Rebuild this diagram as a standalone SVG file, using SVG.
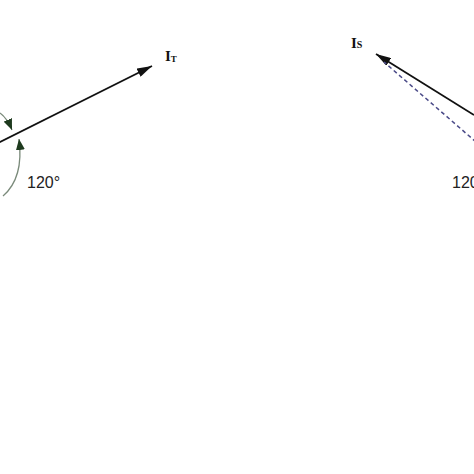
<svg xmlns="http://www.w3.org/2000/svg" width="474" height="474" viewBox="0 0 474 474">
<style>
.vec{stroke:#111;stroke-width:1.8;fill:none}
.dash{stroke:#4a4a88;stroke-width:1.5;fill:none;stroke-dasharray:4 3}
.arc{stroke:#7a8a7a;stroke-width:1.3;fill:none}
.lbl{font-family:"Liberation Serif",serif;font-weight:bold;fill:#111}
.num{font-family:"Liberation Sans",sans-serif;font-size:16px;fill:#222}
</style>
<defs>
<marker id="ah" viewBox="0 0 15 9" refX="15" refY="4.5" markerWidth="15" markerHeight="9" markerUnits="userSpaceOnUse" orient="auto">
<path d="M0,0 L15,4.5 L0,9 Z" fill="#111"/>
</marker>
<marker id="gh" viewBox="0 0 11 9" refX="11" refY="4.5" markerWidth="11" markerHeight="9" markerUnits="userSpaceOnUse" orient="auto">
<path d="M0,0 L11,4.5 L0,9 Z" fill="#1e3a1e"/>
</marker>
</defs>
<rect width="474" height="474" fill="#fff"/>
<g id="connectors">
<line class="vec" x1="-2" y1="143" x2="152" y2="66" marker-end="url(#ah)"/>
<path class="arc" d="M0,113 Q7,118 12,130" marker-end="url(#gh)"/>
<path class="arc" d="M3,196 Q24,178 19,139" marker-end="url(#gh)"/>
<line class="vec" x1="474" y1="115" x2="376" y2="54" marker-end="url(#ah)"/>
<line class="dash" x1="476" y1="142" x2="384" y2="62"/>
</g>
<g id="IT">
<text class="lbl" x="165" y="61" font-size="15">I<tspan font-size="9" dy="1">T</tspan></text>
</g>
<g id="IS">
<text class="lbl" x="351" y="48" font-size="15">I<tspan font-size="10">S</tspan></text>
</g>
<g id="angle-left">
<text class="num" x="27" y="188">120°</text>
</g>
<g id="angle-right">
<text class="num" x="452" y="188">120°</text>
</g>
</svg>
